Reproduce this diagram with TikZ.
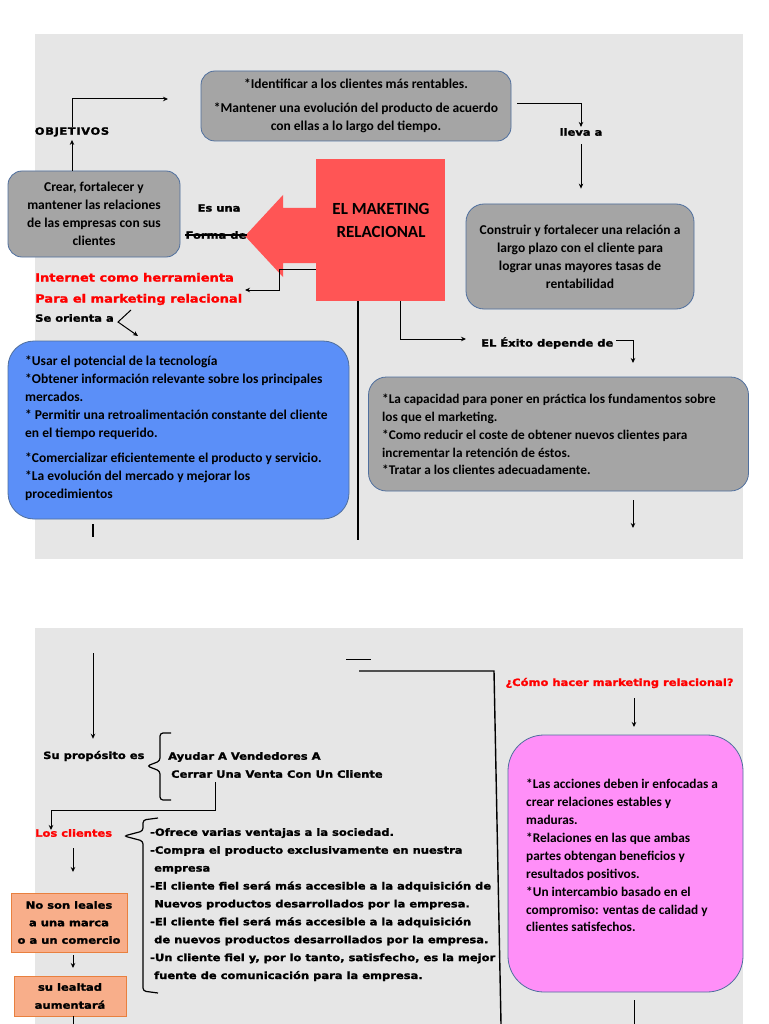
\documentclass[tikz,border=0pt]{standalone}
\usepackage{fontspec}
\setmainfont{Carlito}
\newfontfamily\blk{DejaVu Sans}[FakeStretch=1.15, BoldFeatures={FakeBold=1.6}]
\newfontfamily\blkw{DejaVu Sans}[FakeStretch=1.15, LetterSpace=6, BoldFeatures={FakeBold=1.6}]
\usetikzlibrary{arrows.meta}
\definecolor{panel}{HTML}{E6E6E6}
\definecolor{gbox}{HTML}{A5A5A5}
\definecolor{bedge}{HTML}{4F6F9E}
\definecolor{bbox}{HTML}{5B8FF8}
\definecolor{pbox}{HTML}{FF8FF8}
\definecolor{mred}{HTML}{FF5555}
\definecolor{tred}{HTML}{FF0000}
\definecolor{obox}{HTML}{F8AE8A}
\definecolor{oedge}{HTML}{E8803F}
\begin{document}
\begin{tikzpicture}[x=1pt,y=-1pt,
  box/.style={draw=bedge, line width=0.8pt, inner sep=0pt},
  cal/.style={font=\bfseries\fontsize{13.5}{18}\selectfont},
  blkf/.style={font=\blk\bfseries\fontsize{10}{18}\selectfont},
  arr/.style={-{Stealth[length=5pt,width=4.5pt]}, line width=1pt},
  ln/.style={line width=1pt},
  lbl/.style={inner sep=0pt}]
\useasboundingbox (0,0) rectangle (768,1024);
\fill[white] (0,0) rectangle (768,1024);
\fill[panel] (35,34) rectangle (743,559);
\fill[panel] (35,628) rectangle (743,1024);

% ---------- top panel ----------
\node[box, fill=gbox, rounded corners=14pt, minimum width=310, minimum height=70, cal, align=center] (obj) at (356,106)
  {*Identificar a los clientes más rentables.\\[6pt]*Mantener una evolución del producto de acuerdo\\con ellas a lo largo del tiempo.};
\node[lbl, font=\blkw\bfseries\fontsize{10}{18}\selectfont] (objl) at (72,132) {OBJETIVOS};
\coordinate (o1) at (168,99);
\draw[arr] (objl.north) |- (o1);

\node[box, fill=gbox, rounded corners=14pt, minimum width=172, minimum height=86, cal, align=center] (crear) at (94,214)
  {Crear, fortalecer y\\mantener las relaciones\\de las empresas con sus\\clientes};
\draw[arr, shorten >=3pt] (crear.north -| objl.south) -- (objl.south);

\node[lbl, blkf] (esuna) at (219,208) {Es una};
\node[lbl, blkf] (forma) at (216,235) {Forma de};
\fill[mred] (316,208) -- (283,208) -- (283,195) -- (245,236) -- (283,277) -- (283,263) -- (316,263) -- cycle;
\coordinate (tip) at (247,235);
\draw[line width=1.2pt] (forma.west) -- (tip);

\node[fill=mred, minimum width=129, minimum height=142, inner sep=0pt] (mr) at (380.5,230) {};
\node[lbl, font=\bfseries\fontsize{17}{23}\selectfont, align=center] (mrt) at (381,220) {EL MAKETING\\RELACIONAL};

\node[lbl, font=\blk\bfseries\fontsize{11.3}{21}\selectfont, text=tred, align=left, anchor=west] (inet) at (35,289)
  {Internet como herramienta\\Para el marketing relacional};
\coordinate (i1) at (279,269);
\coordinate (i2) at (245,290);
\draw[arr] (mr.west |- i1) -- (i1) |- (i2);

\node[lbl, blkf, anchor=west] (seor) at (35,318) {Se orienta a};
\coordinate (s1) at (131,310);
\coordinate (s2) at (118,322);
\coordinate (s3) at (138,336);
\draw[arr] (s1) -- (s2) -- (s3);

\node[box, fill=bbox, rounded corners=26pt, minimum width=341, minimum height=178] (blue) at (178.5,430) {};
\node[lbl, cal, align=left, anchor=north west] (bluet) at (25,356)
  {*Usar el potencial de la tecnología\\
   *Obtener información relevante sobre los principales\\
   mercados.\\
   * Permitir una retroalimentación constante del cliente\\
   en el tiempo requerido.\\[7pt]
   *Comercializar eficientemente el producto y servicio.\\
   *La evolución del mercado y mejorar los\\
   procedimientos};
\coordinate (bl1) at (93,537);
\draw[line width=2pt, shorten <=5pt] (blue.south -| bl1) -- (bl1);

\coordinate (v1) at (358,540);
\draw[line width=1.4pt] (mr.south -| v1) -- (v1);

\node[lbl, blkf, anchor=west] (exito) at (481,343) {EL Éxito depende de};
\coordinate (e1) at (400,339);
\coordinate (e2) at (466,339);
\draw[arr] (mr.south -| e1) -- (e1) -- (e2);
\coordinate (x1) at (616,340);
\coordinate (x2) at (633,363);
\draw[arr] (x1) -| (x2);

\node[box, fill=gbox, rounded corners=18pt, minimum width=380, minimum height=114] (g3) at (558.5,434) {};
\node[lbl, align=left, anchor=north west, font=\bfseries\fontsize{13.3}{17.8}\selectfont] (g3t) at (382,394)
  {*La capacidad para poner en práctica los fundamentos sobre\\
   los que el marketing.\\
   *Como reducir el coste de obtener nuevos clientes para\\
   incrementar la retención de éstos.\\
   *Tratar a los clientes adecuadamente.};
\coordinate (b1) at (633,528);
\draw[arr, shorten <=9pt] (g3.south -| b1) -- (b1);

\node[box, fill=gbox, rounded corners=18pt, minimum width=228, minimum height=105, cal, align=center] (cons) at (580,256.5)
  {Construir y fortalecer una relación a\\largo plazo con el cliente para\\lograr unas mayores tasas de\\rentabilidad};
\node[lbl, blkf] (lleva) at (581,132) {lleva a};
\coordinate (l1) at (581,104);
\draw[arr, shorten <=6pt, shorten >=1pt] (obj.east |- l1) -| (lleva.north);
\draw[arr, shorten <=8pt, shorten >=15pt] (lleva.south) -- (cons.north -| lleva.south);

% ---------- bottom panel ----------
\node[lbl, blkf, anchor=west] (su) at (43,756) {Su propósito es};
\coordinate (p1) at (93,653);
\draw[arr, shorten >=12pt] (p1) -- (p1 |- su.north);

\draw[line width=1.2pt, rounded corners=3pt] (171,733) -- (160,733) -- (160,761) -- (147,766) -- (160,771) -- (160,800) -- (171,800);
\node[lbl, blkf, align=left, anchor=west] (ayu) at (168,765)
  {Ayudar A Vendedores A\\\hspace{3pt}Cerrar Una Venta Con Un Cliente};
\coordinate (k1) at (215,810);
\coordinate (k2) at (51,830);
\draw[arr, shorten <=4pt] (ayu.south -| k1) -- (k1) -| (k2);

\draw[line width=0.6pt] (346,659) -- (371,659);
\coordinate (w1) at (359,671);
\coordinate (w2) at (494,671);
\coordinate (w3) at (501,1024);
\draw[line width=1.4pt] (w1) -- (w2) -- (w3);

\node[lbl, blkf, text=tred, anchor=west] (losc) at (35,833) {Los clientes};
\draw[line width=1.2pt, rounded corners=3pt] (158,818) -- (143,820) -- (143,831) -- (124,836) -- (143,841) -- (143,991) -- (158,993);
\node[lbl, align=left, anchor=north west, font=\blk\bfseries\fontsize{10}{17.9}\selectfont] (lista) at (150,828)
  {-Ofrece varias ventajas a la sociedad.\\
   -Compra el producto exclusivamente en nuestra\\
   \hspace{4pt}empresa\\
   -El cliente fiel será más accesible a la adquisición de\\
   \hspace{4pt}Nuevos productos desarrollados por la empresa.\\
   -El cliente fiel será más accesible a la adquisición\\
   \hspace{4pt}de nuevos productos desarrollados por la empresa.\\
   -Un cliente fiel y, por lo tanto, satisfecho, es la mejor\\
   \hspace{4pt}fuente de comunicación para la empresa.};

\node[draw=oedge, fill=obox, line width=0.8pt, minimum width=116, minimum height=59, inner sep=0pt, align=center,
  font=\blk\bfseries\fontsize{10}{17.5}\selectfont] (o1b) at (69,922.5)
  {No son leales\\a una marca\\o a un comercio};
\coordinate (c1) at (73,848);
\coordinate (c2) at (73,872);
\draw[arr] (c1) -- (c2);
\coordinate (c3) at (73,968);
\draw[arr, shorten <=3pt] (o1b.south -| c3) -- (c3);
\node[draw=oedge, fill=obox, line width=0.8pt, minimum width=112, minimum height=40, inner sep=0pt, blkf, align=center] (o2b) at (70,996)
  {su lealtad\\aumentará};
\coordinate (c4) at (73,1024);
\draw[ln] (o2b.south -| c4) -- (c4);

\node[lbl, blkf, text=tred] (como) at (619.5,683) {¿Cómo hacer marketing relacional?};
\node[box, fill=pbox, rounded corners=36pt, minimum width=235, minimum height=257] (pink) at (625.5,863.5) {};
\coordinate (q0) at (634,698);
\coordinate (q2) at (634,727);
\draw[arr] (q0) -- (q2);
\node[lbl, align=left, anchor=north west, font=\bfseries\fontsize{13.3}{17.9}\selectfont] (pinkt) at (526,779)
  {*Las acciones deben ir enfocadas a\\
   crear relaciones estables y\\
   maduras.\\
   *Relaciones en las que ambas\\
   partes obtengan beneficios y\\
   resultados positivos.\\
   *Un intercambio basado en el\\
   compromiso: ventas de calidad y\\
   clientes satisfechos.};
\coordinate (q1) at (634,1024);
\draw[ln, shorten <=8pt] (pink.south -| q1) -- (q1);
\end{tikzpicture}
\end{document}
